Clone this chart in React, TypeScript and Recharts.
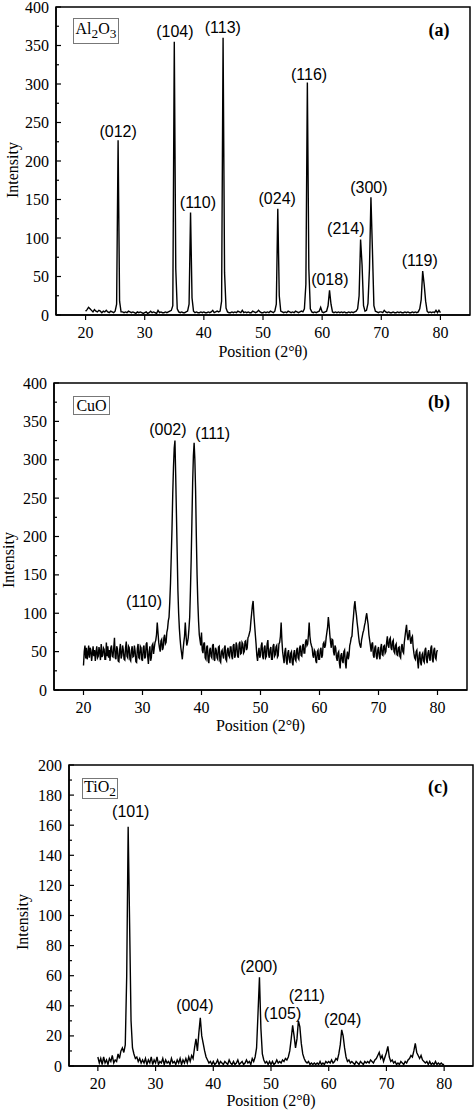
import React from "react";
import { LineChart, Line, XAxis, YAxis, ReferenceArea, ReferenceDot } from "recharts";

// all scans start at 20° and end at 80°
const SCAN_START = 20;
const ALUMINA_STEP = 0.25;
const CUO_STEP = 0.125;
const TITANIA_STEP = 0.25;

// (a) Al2O3 intensities, one row per 5°
const alumina = [
  5, 7, 10, 8, 6, 4, 7, 5, 4, 6, 5, 3, 5, 4, 6, 4, 3, 5, 4, 3,
  5, 14, 227, 18, 4, 4, 3, 4, 3, 5, 4, 3, 4, 3, 2, 4, 3, 4, 3, 2,
  3, 4, 2, 3, 5, 3, 4, 3, 2, 6, 3, 4, 3, 3, 4, 3, 4, 5, 6, 12,
  355, 60, 8, 4, 3, 4, 3, 3, 4, 5, 14, 133, 22, 5, 3, 4, 3, 3, 4, 3,
  4, 3, 3, 4, 3, 4, 6, 3, 4, 5, 4, 5, 18, 360, 55, 9, 4, 3, 3, 4,
  3, 4, 3, 5, 4, 3, 6, 3, 4, 3, 4, 3, 3, 5, 4, 3, 4, 6, 4, 3,
  3, 4, 3, 4, 3, 5, 4, 3, 5, 14, 138, 25, 5, 4, 3, 4, 3, 5, 4, 3,
  4, 3, 5, 4, 3, 4, 5, 4, 8, 40, 302, 60, 8, 4, 3, 4, 3, 4, 5, 10,
  4, 3, 4, 5, 12, 32, 14, 4, 3, 4, 3, 4, 3, 4, 3, 4, 3, 3, 4, 3,
  4, 3, 4, 5, 8, 25, 98, 65, 12, 5, 6, 15, 60, 153, 85, 12, 5, 4, 3, 4,
  4, 3, 6, 4, 3, 4, 3, 3, 4, 3, 3, 4, 3, 4, 3, 3, 4, 3, 4, 3,
  3, 4, 3, 4, 3, 4, 8, 20, 57, 40, 18, 5, 3, 4, 3, 4, 3, 6, 3, 6,
  3,
];

// (b) CuO intensities (finer step, noisy baseline), one row per 5°
const cuo = [
  32, 50, 58, 41, 55, 40, 47, 58, 42, 55, 52, 38, 47, 57, 44, 52, 38, 49, 57, 42,
  44, 56, 50, 39, 60, 43, 45, 55, 53, 40, 40, 62, 44, 57, 42, 52, 38, 55, 58, 44,
  43, 55, 68, 42, 40, 57, 54, 38, 37, 52, 60, 41, 45, 58, 52, 40, 39, 55, 63, 44,
  42, 57, 55, 40, 38, 52, 57, 43, 44, 58, 51, 37, 36, 54, 60, 42, 41, 57, 55, 40,
  38, 55, 58, 41, 43, 60, 62, 44, 34, 50, 57, 38, 42, 58, 60, 47, 55, 62, 65, 72,
  88, 75, 62, 55, 50, 64, 66, 52, 55, 68, 72, 60, 62, 75, 80, 90, 95, 115, 140, 175,
  210, 255, 290, 315, 325, 280, 230, 180, 130, 100, 80, 66, 55, 48, 40, 52, 62, 70, 88, 72,
  58, 62, 68, 80, 95, 130, 170, 220, 270, 305, 322, 300, 260, 200, 150, 115, 90, 72, 65, 58,
  75, 52, 48, 60, 62, 42, 40, 56, 58, 38, 35, 52, 55, 44, 42, 58, 60, 40, 38, 55,
  52, 42, 40, 56, 57, 38, 36, 50, 52, 45, 41, 55, 58, 40, 38, 52, 55, 45, 43, 56,
  56, 44, 40, 58, 60, 42, 45, 62, 58, 44, 42, 60, 63, 47, 48, 62, 60, 48, 50, 63,
  64, 52, 55, 68, 70, 74, 78, 90, 100, 110, 116, 98, 85, 72, 60, 45, 38, 48, 55, 42,
  45, 58, 62, 43, 40, 55, 58, 42, 44, 60, 65, 46, 42, 53, 56, 40, 40, 57, 60, 44,
  46, 56, 58, 43, 45, 60, 62, 70, 88, 65, 50, 42, 35, 50, 55, 38, 33, 48, 52, 40,
  35, 48, 50, 36, 32, 47, 52, 40, 38, 52, 55, 42, 40, 55, 58, 45, 44, 57, 60, 48,
  48, 62, 66, 58, 60, 72, 88, 70, 62, 58, 55, 45, 42, 52, 50, 38, 35, 50, 52, 40,
  40, 52, 55, 42, 45, 60, 62, 55, 58, 68, 75, 82, 95, 85, 72, 62, 55, 66, 65, 50,
  45, 58, 55, 42, 38, 48, 50, 35, 28, 45, 48, 38, 35, 50, 52, 36, 28, 44, 50, 40,
  45, 58, 62, 68, 70, 85, 95, 108, 116, 105, 98, 88, 80, 70, 62, 58, 55, 65, 70, 75,
  78, 84, 88, 95, 100, 92, 85, 72, 65, 58, 50, 60, 62, 45, 42, 55, 58, 44, 40, 52,
  56, 44, 40, 55, 60, 46, 45, 57, 58, 48, 50, 62, 70, 58, 55, 66, 68, 55, 52, 63,
  65, 50, 48, 58, 60, 46, 45, 55, 56, 44, 42, 56, 60, 50, 48, 62, 70, 78, 85, 72,
  65, 72, 78, 66, 60, 68, 70, 56, 48, 42, 40, 50, 52, 38, 28, 45, 50, 36, 32, 46,
  48, 38, 36, 52, 55, 40, 35, 48, 52, 42, 38, 55, 58, 40, 36, 52, 55, 42, 40, 50,
  52,
];

// (c) TiO2 intensities, one row per 5°
const titania = [
  6, 2, 5, 1, 6, 2, 4, 1, 5, 3, 7, 2, 4, 3, 8, 5, 10, 12, 9, 14,
  60, 159, 95, 30, 12, 8, 5, 6, 3, 5, 2, 4, 2, 5, 1, 4, 2, 6, 1, 4,
  2, 6, 1, 3, 2, 5, 1, 4, 2, 3, 1, 5, 2, 3, 1, 4, 2, 5, 1, 4,
  2, 5, 2, 6, 3, 7, 5, 12, 18, 10, 22, 32, 20, 15, 10, 6, 4, 2, 3, 1,
  3, 1, 2, 4, 1, 3, 2, 1, 3, 2, 1, 4, 2, 1, 3, 1, 2, 4, 1, 2,
  3, 1, 2, 4, 2, 3, 1, 5, 3, 6, 12, 35, 59, 25, 8, 4, 2, 3, 1, 3,
  1, 3, 1, 2, 4, 2, 3, 2, 4, 3, 5, 4, 6, 10, 18, 27, 20, 12, 18, 30,
  26, 15, 8, 5, 3, 2, 3, 1, 2, 1, 2, 1, 2, 1, 3, 1, 2, 1, 3, 2,
  3, 2, 4, 2, 3, 5, 4, 8, 14, 24, 20, 12, 6, 3, 4, 2, 3, 2, 1, 3,
  2, 1, 3, 2, 1, 3, 2, 3, 2, 4, 3, 2, 4, 5, 7, 9, 5, 7, 3, 6,
  9, 13, 6, 3, 4, 2, 3, 1, 2, 1, 3, 2, 1, 3, 2, 4, 5, 7, 6, 10,
  15, 9, 7, 5, 7, 4, 3, 2, 3, 1, 3, 1, 2, 1, 3, 1, 2, 1, 2, 1,
  1,
];

const xTicks = [20, 30, 40, 50, 60, 70, 80];
const yTicks400 = [0, 25, 50, 75, 100, 125, 150, 175, 200, 225, 250, 275, 300, 325, 350, 375, 400];
const yTicks200 = [0, 10, 20, 30, 40, 50, 60, 70, 80, 90, 100, 110, 120, 130, 140, 150, 160, 170, 180, 190, 200];

// peak labels (hkl) placed in data coordinates
const aluminaPeaks = [
  { text: "(012)", x: 25.5, y: 238 },
  { text: "(104)", x: 35.1, y: 369 },
  { text: "(113)", x: 43.2, y: 374 },
  { text: "(110)", x: 39.0, y: 146 },
  { text: "(024)", x: 52.4, y: 151 },
  { text: "(116)", x: 57.8, y: 312 },
  { text: "(018)", x: 61.3, y: 46 },
  { text: "(214)", x: 64.0, y: 112 },
  { text: "(300)", x: 67.9, y: 166 },
  { text: "(119)", x: 76.5, y: 71 },
];
const cuoPeaks = [
  { text: "(002)", x: 34.3, y: 339 },
  { text: "(111)", x: 41.9, y: 334 },
  { text: "(110)", x: 30.25, y: 115 },
];
const titaniaPeaks = [
  { text: "(101)", x: 25.7, y: 169 },
  { text: "(004)", x: 36.8, y: 40 },
  { text: "(200)", x: 47.9, y: 66 },
  { text: "(105)", x: 52.0, y: 35 },
  { text: "(211)", x: 56.2, y: 47 },
  { text: "(204)", x: 62.4, y: 31 },
];

const SERIF = '"Liberation Serif", "Times New Roman", serif';
const SANS = '"Liberation Sans", Arial, sans-serif';

const toSeries = (values: number[], step: number) =>
  values.map((v, i) => ({ x: SCAN_START + i * step, y: v }));

const panels = [
  {
    id: "a",
    values: alumina,
    step: ALUMINA_STEP,
    peaks: aluminaPeaks,
    formula: <>Al<sub>2</sub>O<sub>3</sub></>,
    yMax: 400,
    yTicks: yTicks400,
    labelEvery: 50,
    top: 0,
    height: 365,
    margin: { top: 7, right: 4, left: 0, bottom: 0 },
    yWidth: 56,
    xHeight: 50,
    xLabelOffset: 8,
    yLabel: { x: 12, y: 170 },
    tag: { cx: 439, cy: 30 },
    box: { left: 73, top: 18, width: 46, height: 26 },
  },
  {
    id: "b",
    values: cuo,
    step: CUO_STEP,
    peaks: cuoPeaks,
    formula: <>CuO</>,
    yMax: 400,
    yTicks: yTicks400,
    labelEvery: 50,
    top: 360,
    height: 380,
    margin: { top: 23, right: 7, left: 0, bottom: 0 },
    yWidth: 54,
    xHeight: 50,
    xLabelOffset: 9,
    yLabel: { x: 8, y: 200 },
    tag: { cx: 439, cy: 402 },
    box: { left: 73, top: 396, width: 37, height: 19 },
  },
  {
    id: "c",
    values: titania,
    step: TITANIA_STEP,
    peaks: titaniaPeaks,
    formula: <>TiO<sub>2</sub></>,
    yMax: 200,
    yTicks: yTicks200,
    labelEvery: 20,
    top: 740,
    height: 370,
    margin: { top: 25, right: 1, left: 0, bottom: 0 },
    yWidth: 69,
    xHeight: 44,
    xLabelOffset: 4,
    yLabel: { x: 22, y: 182 },
    tag: { cx: 438, cy: 787 },
    box: { left: 82, top: 778, width: 36, height: 21 },
  },
];

// y ticks point into the plot, minor ones unlabeled
const makeYTick = (plotLeft: number, labelEvery: number) => (props: any) => {
  const { y, payload } = props;
  const v = payload.value;
  const major = v % labelEvery === 0;
  return (
    <g>
      <line x1={plotLeft} x2={plotLeft + (major ? 5 : 3)} y1={y} y2={y} stroke="#000" strokeWidth={1.2} />
      {major && (
        <text x={plotLeft - 7} y={y} textAnchor="end" dominantBaseline="central" fill="#000" fontSize={16} fontFamily={SERIF}>
          {v}
        </text>
      )}
    </g>
  );
};

const Panel = ({ p }: { p: (typeof panels)[number] }) => {
  const data = toSeries(p.values, p.step);
  const plotLeft = p.margin.left + p.yWidth;
  return (
    <div style={{ position: "absolute", left: 0, top: p.top }}>
      <LineChart width={474} height={p.height} data={data} margin={p.margin}>
        <XAxis
          dataKey="x"
          type="number"
          domain={[15, 85]}
          allowDataOverflow
          ticks={xTicks}
          interval={0}
          height={p.xHeight}
          tickSize={5}
          tickMargin={7}
          stroke="#000"
          axisLine={{ stroke: "#000", strokeWidth: 1.5 }}
          tickLine={{ stroke: "#000", strokeWidth: 1.2 }}
          tick={{ fill: "#000", fontSize: 16, fontFamily: SERIF }}
          label={{
            value: "Position (2°θ)",
            position: "insideBottom",
            offset: p.xLabelOffset,
            fill: "#000",
            fontSize: 16,
            fontFamily: SERIF,
          }}
        />
        <YAxis
          type="number"
          domain={[0, p.yMax]}
          allowDataOverflow
          ticks={p.yTicks}
          interval={0}
          width={p.yWidth}
          tickLine={false}
          axisLine={{ stroke: "#000", strokeWidth: 1.5 }}
          tick={makeYTick(plotLeft, p.labelEvery)}
          label={{
            value: "Intensity",
            content: () => (
              <text
                x={p.yLabel.x}
                y={p.yLabel.y}
                transform={`rotate(-90 ${p.yLabel.x} ${p.yLabel.y})`}
                textAnchor="middle"
                dominantBaseline="central"
                fill="#000"
                fontSize={16}
                fontFamily={SERIF}
              >
                Intensity
              </text>
            ),
          }}
        />
        <ReferenceArea x1={15} x2={85} y1={0} y2={p.yMax} fill="none" fillOpacity={0} stroke="#000" strokeWidth={1.5} />
        <Line
          type="linear"
          dataKey="y"
          stroke="#000"
          strokeWidth={1.4}
          dot={false}
          isAnimationActive={false}
        />
        {p.peaks.map((pk) => (
          <ReferenceDot
            key={pk.text + pk.x}
            x={pk.x}
            y={pk.y}
            r={1}
            fill="none"
            stroke="none"
            label={{ value: pk.text, position: "center", fill: "#000", fontSize: 16, fontFamily: SANS }}
          />
        ))}
      </LineChart>
    </div>
  );
};

export default function App() {
  return (
    <div style={{ position: "absolute", left: 0, top: 0, width: 474, height: 1110, background: "#fff", overflow: "hidden" }}>
      {panels.map((p) => (
        <Panel key={p.id} p={p} />
      ))}
      {panels.map((p) => (
        <React.Fragment key={"ann" + p.id}>
          <div
            style={{
              position: "absolute",
              left: p.box.left,
              top: p.box.top,
              width: p.box.width,
              height: p.box.height,
              boxSizing: "border-box",
              border: "1px solid #777",
              display: "flex",
              alignItems: "center",
              justifyContent: "center",
              fontFamily: SERIF,
              fontSize: 16,
              lineHeight: 1,
              color: "#000",
              background: "#fff",
            }}
          >
            <span>{p.formula}</span>
          </div>
          <div
            style={{
              position: "absolute",
              left: p.tag.cx - 20,
              top: p.tag.cy - 10,
              width: 40,
              height: 20,
              lineHeight: "20px",
              textAlign: "center",
              fontFamily: SERIF,
              fontWeight: "bold",
              fontSize: 18,
              color: "#000",
            }}
          >
            ({p.id})
          </div>
        </React.Fragment>
      ))}
    </div>
  );
}
